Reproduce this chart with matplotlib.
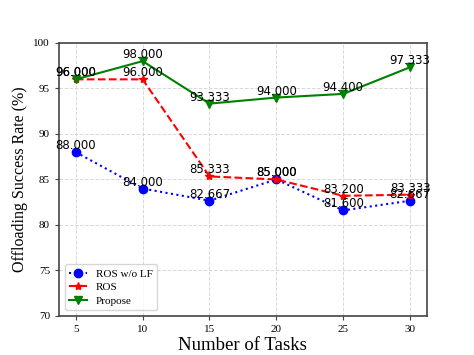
import numpy as np
import matplotlib.pyplot as plt

# tasks on x axis
tasks = [5, 10, 15, 20, 25, 30]
ros_wo_lf = [88.000, 84.000, 82.667, 85.000, 81.600, 82.667]
ros = [96.000, 96.000, 85.333, 85.000, 83.200, 83.333]
propose = [96.000, 98.000, 93.333, 94.000, 94.400, 97.333]

serif = ['Liberation Serif', 'DejaVu Serif']

fig = plt.figure(figsize=(4.74, 3.55), dpi=100)
ax = fig.add_axes([0.1245, 0.11, 0.776, 0.769])

ax.plot(tasks, ros_wo_lf, ':', color='blue', marker='o', markersize=6, label='ROS w/o LF')
ax.plot(tasks, ros, '--', color='red', marker='*', markersize=6, label='ROS')
ax.plot(tasks, propose, '-', color='green', marker='v', markersize=6, label='Propose')

# value labels
for ys in [ros_wo_lf, ros, propose]:
    for x, y in zip(tasks, ys):
        ax.annotate('%.3f' % y, (x, y), xytext=(0, 0), textcoords='offset points',
                    ha='center', va='bottom', fontsize=8.5, color='black')

ax.set_ylim(70, 100)
ax.set_xticks(tasks)
ax.grid(True, linestyle='--', color='#d8d8d8', linewidth=0.7)
ax.set_axisbelow(True)
for s in ax.spines.values():
    s.set_color('#444444')
    s.set_linewidth(1.2)
ax.tick_params(length=3, color='#444444')

ax.set_xlabel('Number of Tasks', fontsize=13.5, family=serif, labelpad=2)
ax.set_ylabel('Offloading Success Rate (%)', fontsize=11.5, family=serif)
for lbl in ax.get_xticklabels() + ax.get_yticklabels():
    lbl.set_family(serif)
    lbl.set_fontsize(8)

ax.legend(loc='lower left', prop={'family': serif, 'size': 8}, handlelength=1.6,
          borderpad=0.4, labelspacing=0.35)

plt.savefig('out.png', dpi=100)
